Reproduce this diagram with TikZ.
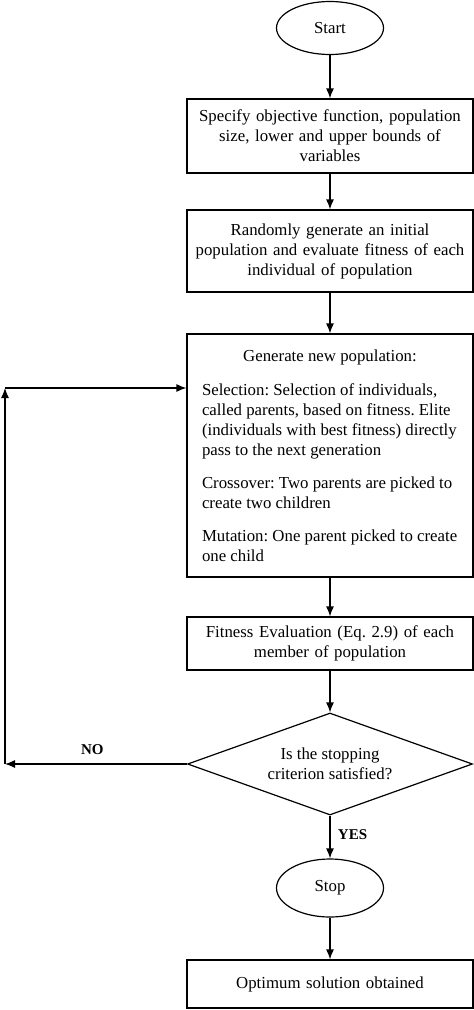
\documentclass[tikz,border=0pt]{standalone}
\usepackage{fontspec}
\setmainfont{Liberation Serif}
\usetikzlibrary{arrows.meta,shapes.geometric,positioning}

\begin{document}
\frenchspacing
\begin{tikzpicture}[x=1pt,y=1pt,
    txt/.style={font=\fontsize{16.8}{20}\selectfont},
    lbl/.style={font=\fontsize{15}{18}\selectfont\bfseries},
    box/.style={draw, txt, line width=1.2pt, minimum width=286pt, text width=276pt, align=center, inner sep=4pt},
    term/.style={draw, txt, ellipse, line width=1.2pt, minimum width=107pt, minimum height=53pt},
    flow/.style={-{Latex[length=10pt,width=8pt]}, line width=1.2pt}]
    \useasboundingbox (0,0) rectangle (474,-1010);

    \node[term] (start) at (330,-28) {Start};
    \node[box, minimum height=74pt] (spec) at (330,-136) {Specify objective function, population\\size, lower and upper bounds of\\variables};
    \node[box, minimum height=82pt] (init) at (330,-251) {Randomly generate an initial\\population and evaluate fitness of each\\individual of population};
    \node[box, minimum height=243pt, text width=256pt, inner xsep=15pt, inner ysep=9pt, align=none] (gen) at (330,-455.5) {%
        {\centering Generate new population:\par}\vspace{14pt}
        \raggedright
        Selection: Selection of individuals,\\called parents, based on fitness. Elite\\(individuals with best fitness) directly\\pass to the next generation\par\vspace{13pt}
        Crossover: Two parents are picked to\\create two children\par\vspace{13pt}
        Mutation: One parent picked to create\\one child};
    \node[box, minimum height=53pt] (eval) at (330,-643.5) {Fitness Evaluation (Eq. 2.9) of each\\member of population};
    \node[draw, txt, diamond, aspect=2.8, line width=1.2pt, minimum width=285pt, minimum height=102pt, inner sep=0pt, align=center] (stopcrit) at (330,-764) {Is the stopping\\criterion satisfied?};
    \node[term, minimum height=58pt] (stop) at (330,-888) {Stop};
    \node[box, minimum height=48pt] (result) at (330,-984) {Optimum solution obtained};

    \coordinate (nocorner) at (5,-764);
    \coordinate (loopcorner) at (5,-388);

    \draw[flow] (start) -- (spec);
    \draw[flow] (spec) -- (init);
    \draw[flow] (init) -- (gen);
    \draw[flow] (gen) -- (eval);
    \draw[flow] (eval) -- (stopcrit);
    \draw[flow] (stopcrit) -- node[right=4pt, lbl, pos=0.45] {YES} (stop);
    \draw[flow] (stop) -- (result);

    \draw[flow] (stopcrit.west) -- node[above=5pt, lbl, pos=0.52] {NO} (nocorner);
    \draw[flow] (nocorner) -- (loopcorner);
    \draw[flow] (loopcorner) -- (gen.west |- loopcorner);
\end{tikzpicture}
\end{document}
